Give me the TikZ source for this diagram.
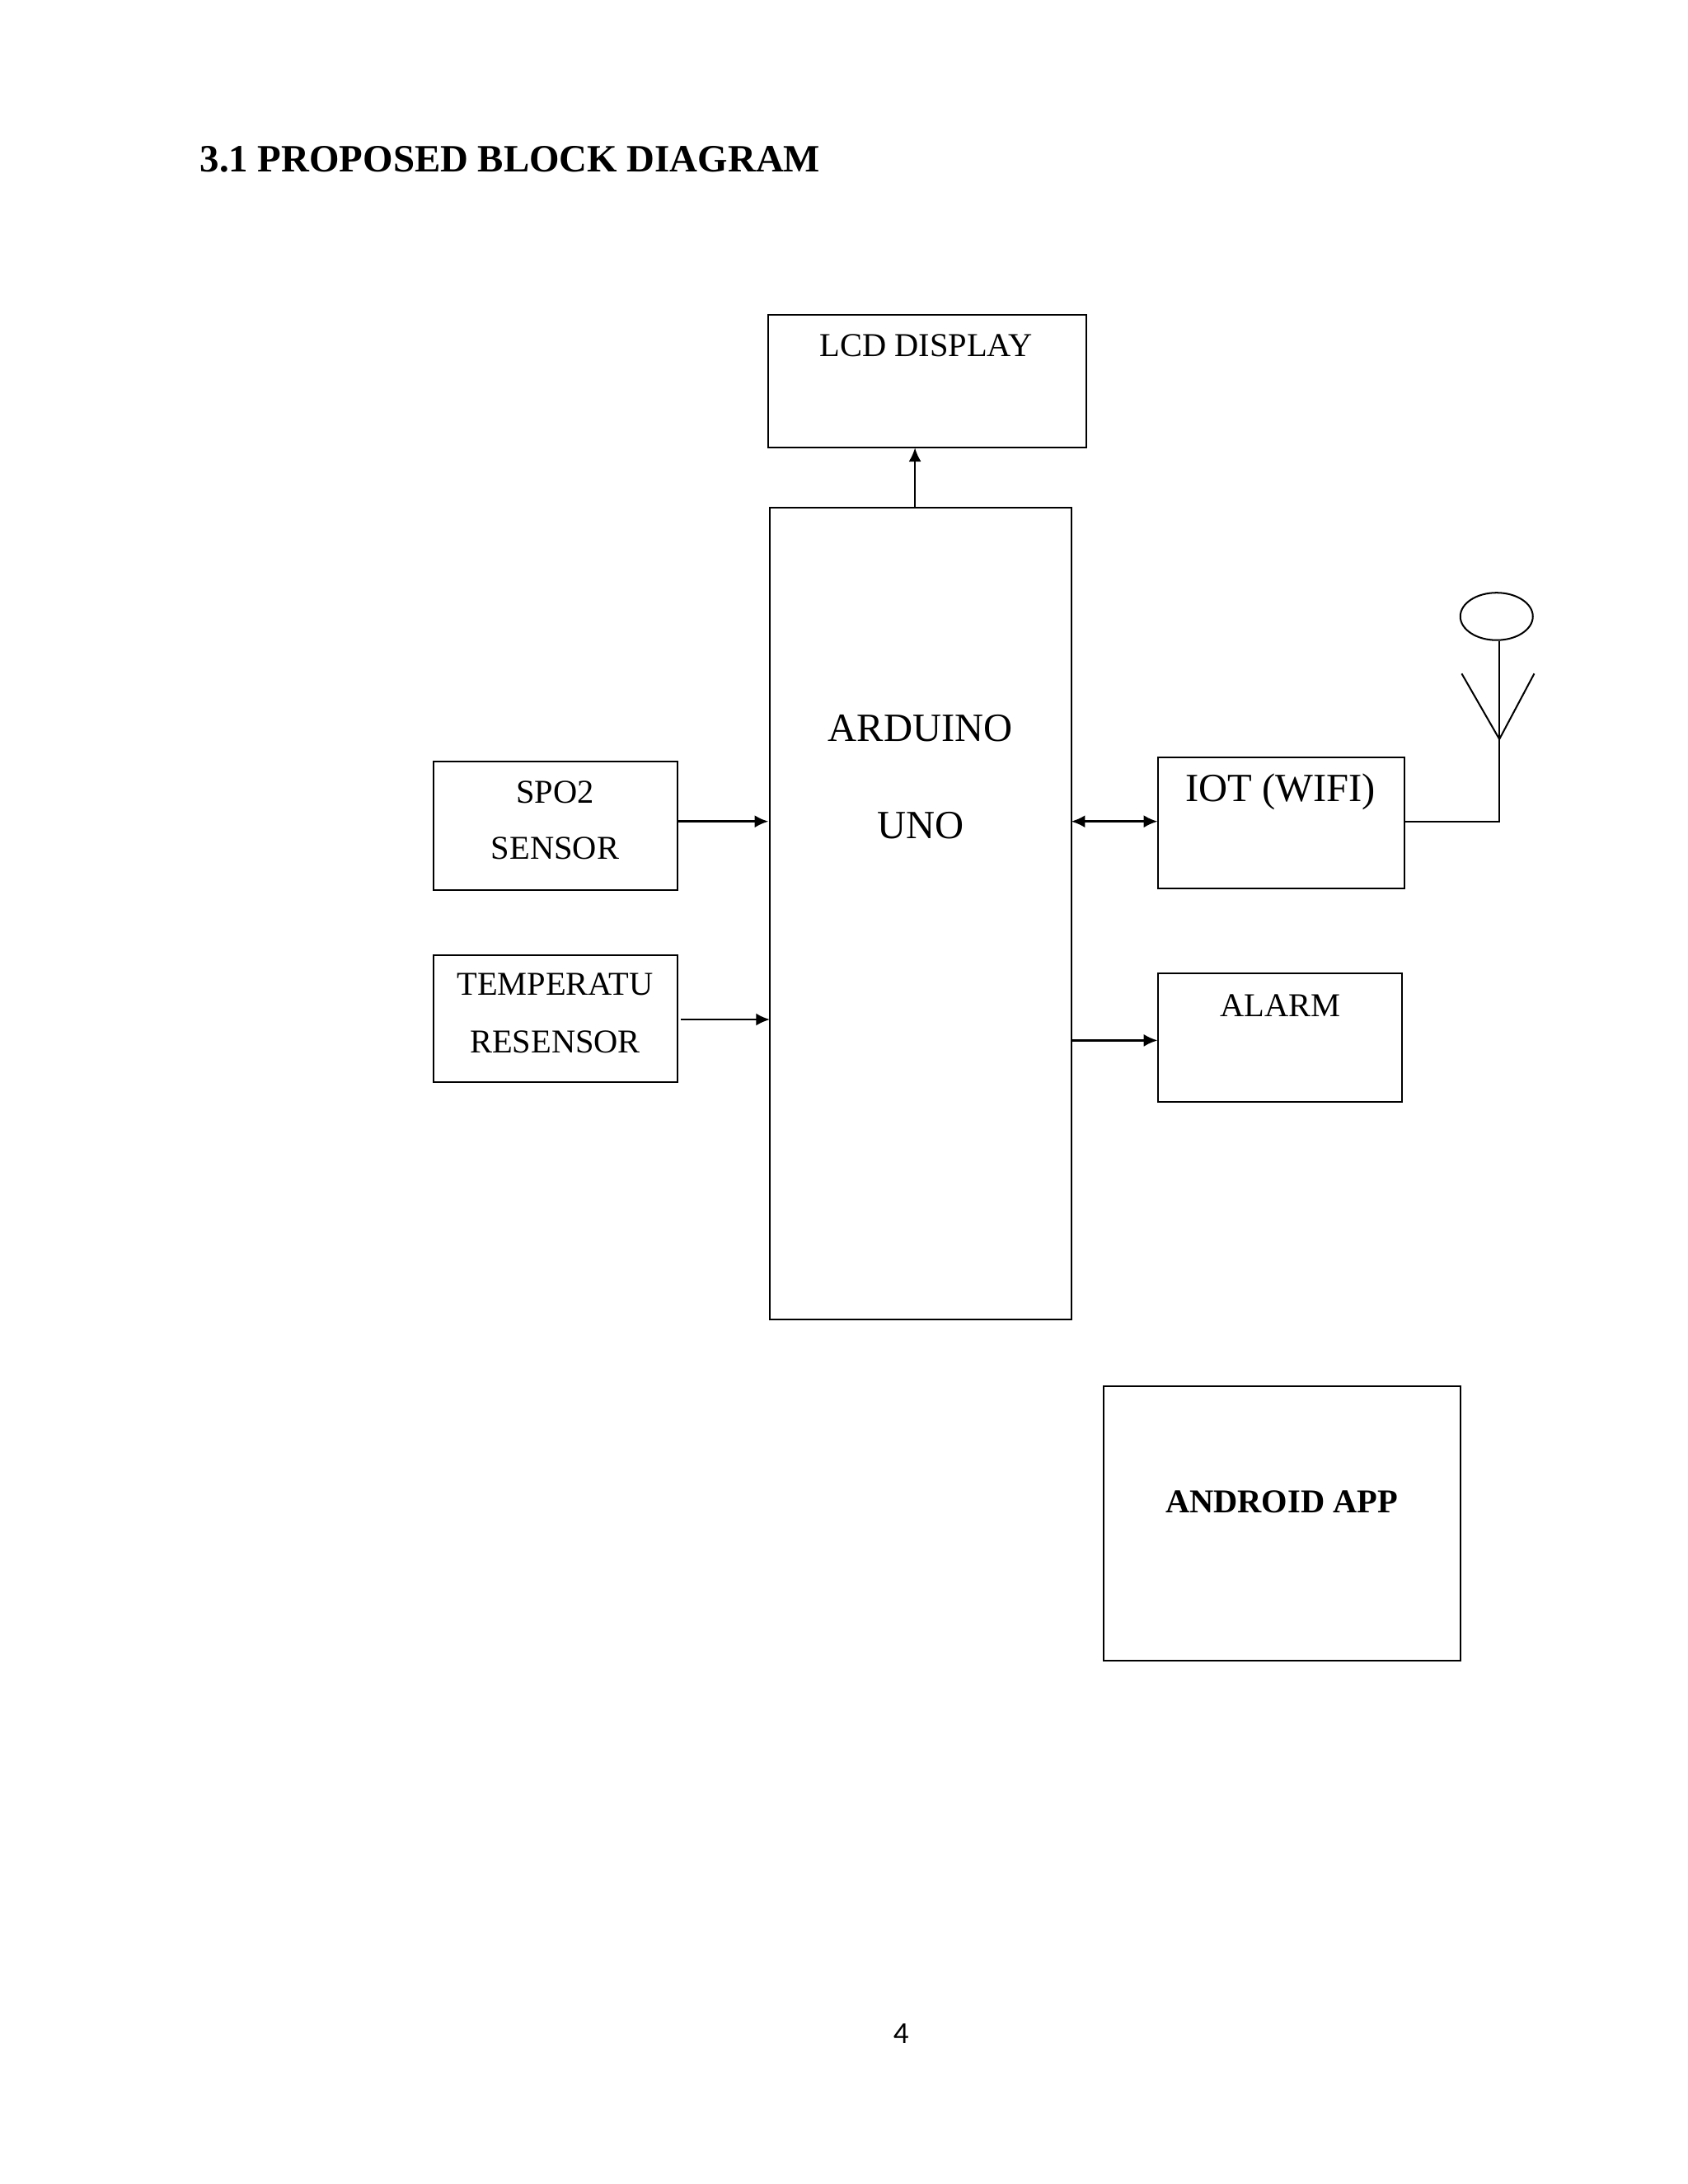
\documentclass[tikz,border=0pt]{standalone}
\usepackage{fontspec}
\setmainfont{Liberation Serif}
\newfontfamily\pgnum{Carlito}
\usetikzlibrary{arrows.meta}
\begin{document}
\begin{tikzpicture}[x=0.5bp,y=-0.5bp,
  box/.style={draw,line width=0.6pt},
  lbl/.style={font=\fontsize{12}{14}\selectfont,inner sep=0},
  big/.style={font=\fontsize{14.4}{17}\selectfont,inner sep=0},
  arr/.style={line width=0.8pt,-{Latex[length=5pt,width=4.5pt]}}]
\useasboundingbox (0,0) rectangle (1210,1566);
\node[anchor=west,font=\bfseries\fontsize{13.9}{16}\selectfont,inner sep=0] (title) at (143,114) {3.1 PROPOSED BLOCK DIAGRAM};
\draw[box] (551,226) rectangle (779,321);
\coordinate (lcdb) at (656,321);
\node[lbl] (lcd) at (664,248) {LCD DISPLAY};
\draw[box] (552,364) rectangle (768,946);
\coordinate (ardt) at (656,364);
\node[big] (ard1) at (660,522) {ARDUINO};
\node[big] (ard2) at (660,592) {UNO};
\draw[arr] (ardt) -- (lcdb);
\draw[box] (311,546) rectangle (486,638);
\node[lbl] (s1) at (398,568) {SPO2};
\node[lbl] (s2) at (398,608) {SENSOR};
\coordinate (sr) at (486,589); \coordinate (al1) at (551,589);
\draw[arr] (sr) -- (al1);
\draw[box] (311,685) rectangle (486,776);
\node[lbl] (t1) at (398,706) {TEMPERATU};
\node[lbl] (t2) at (398,747) {RESENSOR};
\coordinate (tr) at (488,731); \coordinate (al2) at (552,731);
\draw[arr] (tr) -- (al2);
\draw[box] (830,543) rectangle (1007,637);
\node[big] (iot) at (918,568) {IOT (WIFI)};
\coordinate (ar1) at (768,589); \coordinate (il) at (830,589);
\draw[line width=0.8pt,{Latex[length=5pt,width=4.5pt]}-{Latex[length=5pt,width=4.5pt]}] (ar1) -- (il);
\coordinate (ir) at (1007,589); \coordinate (ac) at (1075,589);
\coordinate (at) at (1075,460); \coordinate (av) at (1075,530);
\draw[line width=0.6pt] (ir) -- (ac) -- (at);
\draw[line width=0.6pt] (1048,483) -- (av) -- (1100,483);
\draw[line width=0.6pt] (1073,442) ellipse [x radius=26, y radius=17];
\draw[box] (830,698) rectangle (1005,790);
\node[lbl] (alarm) at (918,721) {ALARM};
\coordinate (ar2) at (768,746); \coordinate (alm) at (830,746);
\draw[arr] (ar2) -- (alm);
\draw[box] (791,994) rectangle (1047,1191);
\node[lbl,font=\bfseries\fontsize{12}{14}\selectfont] (app) at (919,1077) {ANDROID APP};
\node[inner sep=0,font=\pgnum\fontsize{11}{13}\selectfont] (pg) at (646,1458) {4};
\end{tikzpicture}
\end{document}
